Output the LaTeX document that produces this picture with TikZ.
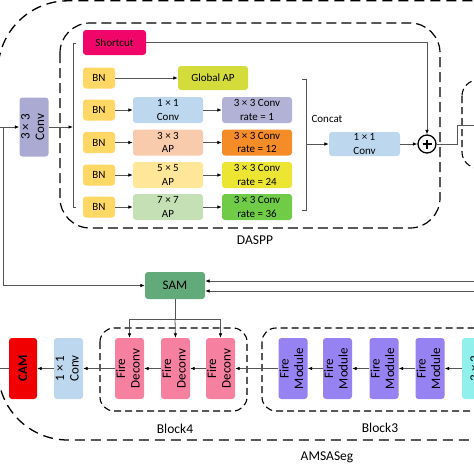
\documentclass[tikz,border=0pt]{standalone}
\usepackage{fontspec}
\setmainfont{Carlito}
\usepackage{tikz}
\usetikzlibrary{arrows.meta}
\definecolor{linecol}{RGB}{85,85,85}
\definecolor{bncol}{RGB}{255,215,100}
\definecolor{shortcol}{RGB}{240,5,105}
\definecolor{gapcol}{RGB}{212,220,60}
\definecolor{bluecol}{RGB}{189,215,238}
\definecolor{salmoncol}{RGB}{248,203,173}
\definecolor{paleycol}{RGB}{255,230,153}
\definecolor{palegcol}{RGB}{197,224,180}
\definecolor{lavcol}{RGB}{178,178,214}
\definecolor{orangecol}{RGB}{244,140,40}
\definecolor{yellowcol}{RGB}{236,230,50}
\definecolor{greencol}{RGB}{112,204,70}
\definecolor{convcol}{RGB}{170,170,210}
\definecolor{samcol}{RGB}{98,170,122}
\definecolor{deconvcol}{RGB}{245,128,160}
\definecolor{firecol}{RGB}{150,130,240}
\definecolor{cyancol}{RGB}{145,240,235}
\definecolor{camcol}{RGB}{240,0,0}
\newcommand{\vlab}[2]{\rotatebox{90}{\begin{tabular}{@{}c@{}}#1\\#2\end{tabular}}}

\begin{document}
\begin{tikzpicture}[x=1pt,y=-1pt,>={Latex[length=4.5pt,width=3.6pt,color=black]},
    box/.style={rounded corners=3pt,inner sep=0pt,align=center,font=\fontsize{11}{13.5}\selectfont},
    vbox/.style={box,minimum width=27,minimum height=61,font=\fontsize{13}{14.5}\selectfont},
    hbox/.style={box,minimum width=70,minimum height=26},
    bnbox/.style={box,fill=bncol,minimum width=32,minimum height=21},
    conn/.style={draw=linecol,line width=0.8pt},
    arr/.style={conn,->},
    grp/.style={draw=black,line width=1.1pt,dash pattern=on 7pt off 4pt,rounded corners=14pt},
    lab/.style={font=\fontsize{13.5}{16}\selectfont}]
    \useasboundingbox (0,0) rectangle (474,474);
    \clip (0,0) rectangle (474,474);
    % Contorni tratteggiati
    \draw[grp,line width=1.3pt,dash pattern=on 10pt off 6pt,rounded corners=70pt] (-2,0.8) rectangle (620,440);
    \draw[grp,line width=1.2pt,dash pattern=on 10pt off 5pt,rounded corners=30pt] (60,23) rectangle (440,228);
    \draw[grp,rounded corners=16pt] (462,80) rectangle (540,168);
    \draw[grp] (100,328) rectangle (247,411);
    \draw[grp] (262,328) rectangle (560,411);
    % Etichette
    \node[lab] (daspplab) at (255,240) {DASPP};
    \node[lab] (b4lab) at (175,429) {Block4};
    \node[lab] (b3lab) at (380,428) {Block3};
    \node[lab] (seglab) at (327,457) {AMSASeg};
    \node[font=\fontsize{11}{13}\selectfont] (concat) at (327,119) {Concat};
    % DASPP
    \node[vbox,fill=convcol,minimum width=28,minimum height=59] (conv3) at (34,127) {\vlab{3 × 3}{Conv}};
    \node[box,fill=shortcol,minimum width=63,minimum height=25] (short) at (114.5,42.5) {Shortcut};
    \node[bnbox] (bn1) at (99,78) {BN};
    \node[bnbox] (bn2) at (99,110) {BN};
    \node[bnbox] (bn3) at (99,142.5) {BN};
    \node[bnbox] (bn4) at (99,175) {BN};
    \node[bnbox] (bn5) at (99,207) {BN};
    \node[hbox,fill=gapcol,minimum height=24] (gap) at (213,78) {Global AP};
    \node[hbox,fill=bluecol] (c1) at (168,110) {1 × 1\\Conv};
    \node[hbox,fill=salmoncol] (ap3) at (168,142.5) {3 × 3\\AP};
    \node[hbox,fill=paleycol] (ap5) at (168,175) {5 × 5\\AP};
    \node[hbox,fill=palegcol] (ap7) at (168,207) {7 × 7\\AP};
    \node[hbox,fill=lavcol] (r1) at (257,110) {3 × 3 Conv\\rate = 1};
    \node[hbox,fill=orangecol] (r12) at (257,142.5) {3 × 3 Conv\\rate = 12};
    \node[hbox,fill=yellowcol] (r24) at (257,175) {3 × 3 Conv\\rate = 24};
    \node[hbox,fill=greencol] (r36) at (257,207) {3 × 3 Conv\\rate = 36};
    \node[hbox,fill=bluecol,minimum width=71,minimum height=24] (c1r) at (364.5,144) {1 × 1\\Conv};
    \node[circle,draw=black,line width=1.3pt,minimum size=18,inner sep=0pt] (sum) at (427,144) {};
    \draw[line width=2.6pt] (sum.center) ++(-4.5,0) -- ++(9,0);
    \draw[line width=2.6pt] (sum.center) ++(0,-4.5) -- ++(0,9);
    % Parentesi
    \draw[conn] (76,43) -- (73,43) -- (73,207) -- (76,207);
    \draw[conn] (302,79) -- (306,79) -- (306,210) -- (302,210);
    \coordinate (brL) at (73,127);
    \coordinate (brR) at (306,144);
    % SAM e blocchi in basso
    \node[box,fill=samcol,minimum width=60,minimum height=27,font=\fontsize{13}{15}\selectfont] (sam) at (175,285.5) {SAM};
    \node[vbox,fill=deconvcol] (fd1) at (129.5,368.5) {\vlab{Fire}{Deconv}};
    \node[vbox,fill=deconvcol] (fd2) at (175.5,368.5) {\vlab{Fire}{Deconv}};
    \node[vbox,fill=deconvcol] (fd3) at (220.5,368.5) {\vlab{Fire}{Deconv}};
    \node[vbox,fill=bluecol] (c1b) at (68.5,368.5) {\vlab{1 × 1}{Conv}};
    \node[vbox,fill=camcol,minimum width=28] (cam) at (23,368.5) {\rotatebox{90}{\bfseries CAM}};
    \node[vbox,fill=firecol,minimum width=28] (fm1) at (293,368.5) {\vlab{Fire}{Module}};
    \node[vbox,fill=firecol,minimum width=28] (fm2) at (337.5,368.5) {\vlab{Fire}{Module}};
    \node[vbox,fill=firecol,minimum width=28] (fm3) at (384,368.5) {\vlab{Fire}{Module}};
    \node[vbox,fill=firecol,minimum width=28] (fm4) at (430,368.5) {\vlab{Fire}{Module}};
    \node[vbox,fill=cyancol,minimum width=28] (cv) at (476,368.5) {\vlab{3 × 3}{}};
    % Punti esterni
    \coordinate (inL) at (0,127);
    \coordinate (brD) at (3,127);
    \coordinate (outR) at (474,125);
    \coordinate (inR1) at (474,281);
    \coordinate (inR2) at (474,291);
    \coordinate (outL) at (0,368.5);
    % Frecce
    \draw[arr] (inL) -- (conv3.west);
    \draw[arr] (brD) |- (sam.west);
    \draw[arr] (conv3.east) -- (brL);
    \draw[arr] (short.east) -| (sum.north);
    \draw[arr] (bn1) -- (gap);
    \foreach \a/\b/\c in {bn2/c1/r1,bn3/ap3/r12,bn4/ap5/r24,bn5/ap7/r36}{
        \draw[arr] (\a) -- (\b);
        \draw[arr] (\b) -- (\c);
    }
    \draw[arr] (brR) -- (c1r.west);
    \draw[arr] (c1r.east) -- (sum.west);
    \draw[conn] (sum.east) -- ++(21,0) |- (outR);
    \draw[arr] (inR1) -- (inR1 -| sam.east);
    \draw[arr] (inR2) -- (inR2 -| sam.east);
    \draw[conn] (sam.south) -- ++(0,20) coordinate (spl);
    \draw[arr] (spl) -- (fd2.north);
    \draw[arr] (spl) -| (fd1.north);
    \draw[arr] (spl) -| (fd3.north);
    \draw[arr] (fd3.west) -- (fd2.east);
    \draw[arr] (fd2.west) -- (fd1.east);
    \draw[arr] (fd1.west) -- (c1b.east);
    \draw[arr] (c1b.west) -- (cam.east);
    \draw[conn] (cam.west) -- (outL);
    \draw[arr] (fm1.west) -- (fd3.east);
    \draw[arr] (fm2.west) -- (fm1.east);
    \draw[arr] (fm3.west) -- (fm2.east);
    \draw[arr] (fm4.west) -- (fm3.east);
    \draw[arr] (cv.west) -- (fm4.east);
\end{tikzpicture}
\end{document}
